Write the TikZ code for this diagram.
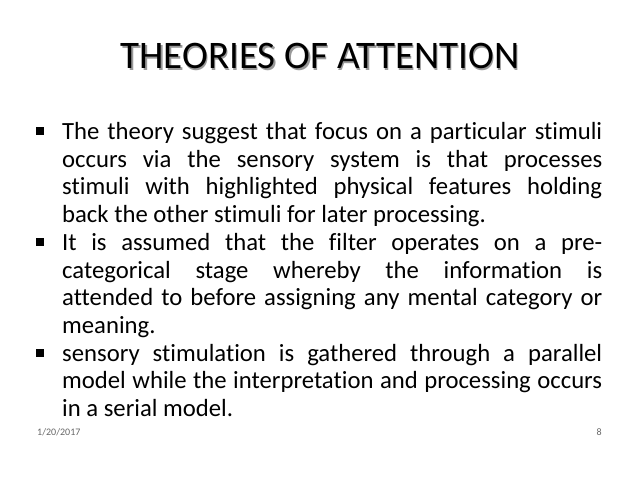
\documentclass[tikz,border=0pt]{standalone}
\usepackage{fontspec}
\setmainfont[Ligatures=NoCommon]{Carlito}
\begin{document}
\begin{tikzpicture}[x=1pt,y=-1pt,
  ln/.style={anchor=base west,inner sep=0pt,font=\fontsize{24.7}{28}\selectfont},
  bul/.style={fill=black,minimum size=7.5pt,inner sep=0pt},
  foot/.style={inner sep=0pt,font=\fontsize{10}{12}\selectfont,text=black!60}]
\useasboundingbox (0,0) rectangle (638,479);
\node[text=black!40,font=\fontsize{39}{46}\selectfont,inner sep=0pt] (ts) at (321.5,57.5) {THEORIES OF ATTENTION};
\node[font=\fontsize{39}{46}\selectfont,inner sep=0pt] (title) at (320,56) {THEORIES OF ATTENTION};
\def\J#1{\makebox[540pt][s]{#1}}
\node[bul] (b1) at (40,131) {};
\node[ln] (l1) at (62,139) {\J{The theory suggest that focus on a particular stimuli}};
\node[ln] (l2) at (62,167) {\J{occurs via the sensory system is that processes}};
\node[ln] (l3) at (62,194) {\J{stimuli with highlighted physical features holding}};
\node[ln] (l4) at (62,222) {back the other stimuli for later processing.};
\node[bul] (b2) at (40,242) {};
\node[ln] (l5) at (62,250) {\J{It is assumed that the filter operates on a pre-}};
\node[ln] (l6) at (62,278) {\J{categorical stage whereby the information is}};
\node[ln] (l7) at (62,305) {\J{attended to before assigning any mental category or}};
\node[ln] (l8) at (62,333) {meaning.};
\node[bul] (b3) at (40,353) {};
\node[ln] (l9) at (62,361) {\J{sensory stimulation is gathered through a parallel}};
\node[ln] (l10) at (62,388) {\J{model while the interpretation and processing occurs}};
\node[ln] (l11) at (62,416) {in a serial model.};
\node[foot,anchor=west] (d) at (37,432) {1/20/2017};
\node[foot,anchor=east] (p) at (602,432) {8};
\end{tikzpicture}
\end{document}
